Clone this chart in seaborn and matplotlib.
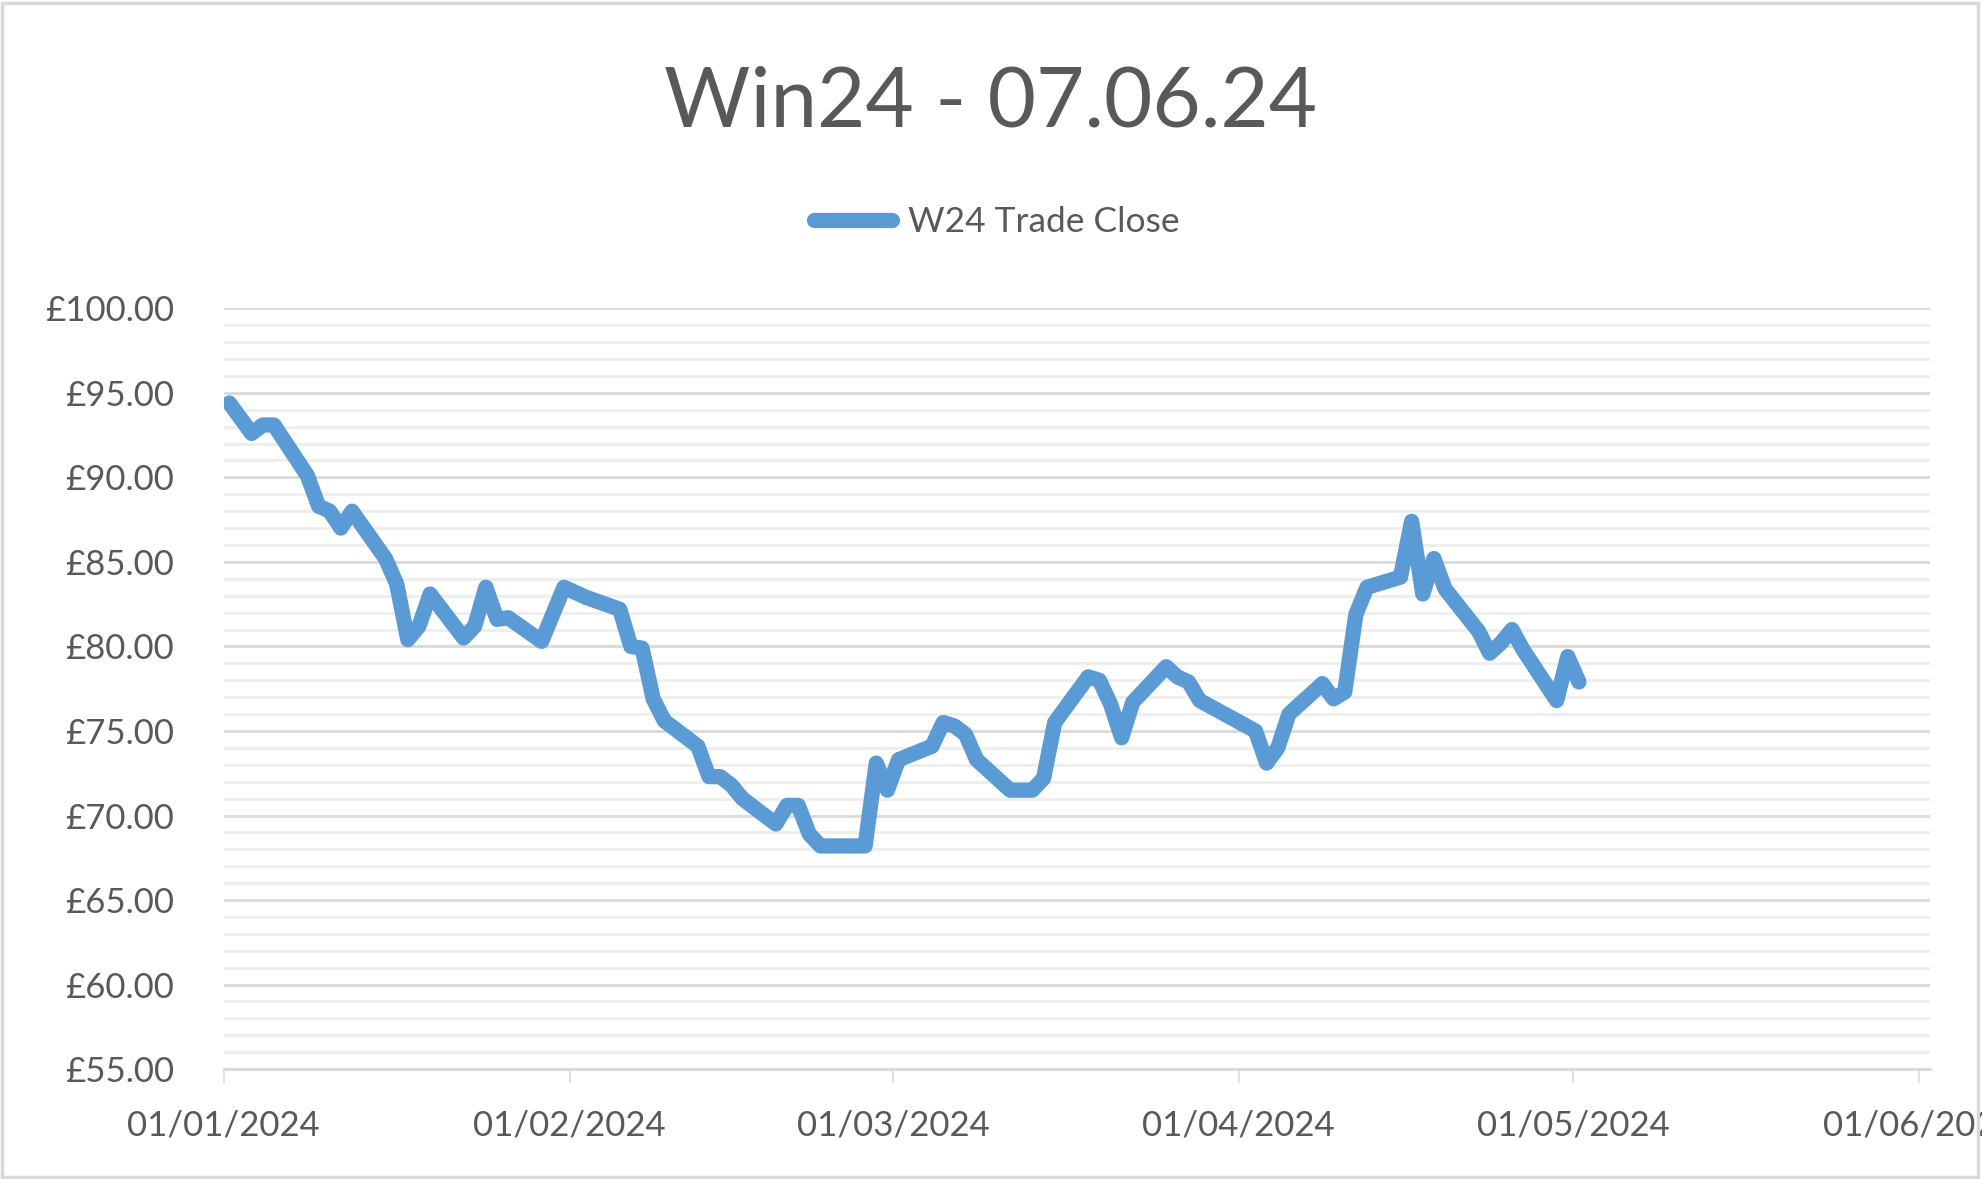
import matplotlib
matplotlib.use("Agg")
import matplotlib.pyplot as plt
import matplotlib.ticker as mticker
import matplotlib.dates as mdates
from matplotlib.patches import Rectangle
import pandas as pd
import seaborn as sns

chart_title = "Win24 - 07.06.24"
series_name = "W24 Trade Close"

trade_dates = [
    "2024-01-01", "2024-01-02", "2024-01-03", "2024-01-04", "2024-01-05",
    "2024-01-08", "2024-01-09", "2024-01-10", "2024-01-11", "2024-01-12",
    "2024-01-15", "2024-01-16", "2024-01-17", "2024-01-18", "2024-01-19",
    "2024-01-22", "2024-01-23", "2024-01-24", "2024-01-25", "2024-01-26",
    "2024-01-29", "2024-01-30", "2024-01-31", "2024-02-01", "2024-02-02",
    "2024-02-05", "2024-02-06", "2024-02-07", "2024-02-08", "2024-02-09",
    "2024-02-12", "2024-02-13", "2024-02-14", "2024-02-15", "2024-02-16",
    "2024-02-19", "2024-02-20", "2024-02-21", "2024-02-22", "2024-02-23",
    "2024-02-26", "2024-02-27", "2024-02-28", "2024-02-29", "2024-03-01",
    "2024-03-04", "2024-03-05", "2024-03-06", "2024-03-07", "2024-03-08",
    "2024-03-11", "2024-03-12", "2024-03-13", "2024-03-14", "2024-03-15",
    "2024-03-18", "2024-03-19", "2024-03-20", "2024-03-21", "2024-03-22",
    "2024-03-25", "2024-03-26", "2024-03-27", "2024-03-28",
    "2024-04-02", "2024-04-03", "2024-04-04", "2024-04-05",
    "2024-04-08", "2024-04-09", "2024-04-10", "2024-04-11", "2024-04-12",
    "2024-04-15", "2024-04-16", "2024-04-17", "2024-04-18", "2024-04-19",
    "2024-04-22", "2024-04-23", "2024-04-24", "2024-04-25", "2024-04-26",
    "2024-04-29", "2024-04-30", "2024-05-01",
]

trade_close = [
    94.4, 93.5, 92.6, 93.1, 93.1,
    90.1, 88.3, 88.0, 87.0, 88.0,
    85.2, 83.7, 80.4, 81.2, 83.1,
    80.5, 81.2, 83.5, 81.6, 81.7,
    80.3, 81.9, 83.5, 83.2, 82.9,
    82.2, 80.0, 79.9, 76.9, 75.6,
    74.1, 72.3, 72.3, 71.8, 71.0,
    69.5, 70.6, 70.6, 68.9, 68.2,
    68.2, 68.2, 73.1, 71.5, 73.3,
    74.1, 75.5, 75.3, 74.8, 73.3,
    71.5, 71.5, 71.5, 72.2, 75.5,
    78.2, 78.0, 76.6, 74.6, 76.7,
    78.8, 78.2, 77.9, 76.8,
    75.0, 73.1, 74.0, 76.0,
    77.8, 76.9, 77.3, 81.9, 83.5,
    84.1, 87.4, 83.1, 85.2, 83.4,
    80.9, 79.6, 80.2, 81.0, 79.8,
    76.8, 79.4, 77.9,
]

x_ticks = ["2024-01-01", "2024-02-01", "2024-03-01", "2024-04-01", "2024-05-01", "2024-06-01"]
y_ticks = [55, 60, 65, 70, 75, 80, 85, 90, 95, 100]

# excel date axis puts each point in the middle of its day slot
df = pd.DataFrame({
    "date": pd.to_datetime(trade_dates) + pd.Timedelta(hours=12),
    "close": trade_close,
})

sns.set_theme(style="white")
plt.rcParams["font.family"] = ["Lato", "DejaVu Sans"]

TEXT = "#595959"
GRID = "#d9d9d9"
MINOR = "#eeeeee"
BLUE = "#5b9bd5"

fig = plt.figure(figsize=(19.82, 11.79), dpi=100)
ax = fig.add_axes([0.1129, 0.0932, 0.861, 0.6453])

sns.lineplot(data=df, x="date", y="close", ax=ax, color=BLUE, linewidth=11,
             label=series_name, solid_capstyle="round", solid_joinstyle="round")

ax.set_xlim(pd.Timestamp("2024-01-01"), pd.Timestamp("2024-06-02"))
ax.set_ylim(y_ticks[0], y_ticks[-1])

ax.set_xticks(pd.to_datetime(x_ticks))
ax.xaxis.set_major_formatter(mdates.DateFormatter("%d/%m/%Y"))
ax.set_yticks(y_ticks)
ax.yaxis.set_major_formatter(mticker.FuncFormatter(lambda v, p: f"£{v:.2f}"))
ax.yaxis.set_minor_locator(mticker.MultipleLocator(1))

ax.set_axisbelow(True)
ax.grid(which="minor", axis="y", color=MINOR, linewidth=2)
ax.grid(which="major", axis="y", color=GRID, linewidth=2)
ax.grid(which="major", axis="x", visible=False)

for side in ["left", "right", "top"]:
    ax.spines[side].set_visible(False)
ax.spines["bottom"].set_color(GRID)
ax.spines["bottom"].set_linewidth(2)

ax.tick_params(axis="x", which="major", direction="out", length=10, width=1.2,
               color=GRID, labelcolor=TEXT, labelsize=25, pad=19, bottom=True)
ax.tick_params(axis="y", which="both", length=0, labelcolor=TEXT, labelsize=25, pad=36)

ax.set_xlabel("")
ax.set_ylabel("")

ax.legend(loc="center", bbox_to_anchor=(0.503, 0.8115), bbox_transform=fig.transFigure,
          frameon=False, fontsize=25.5, handlelength=2.2, handletextpad=0.45,
          labelcolor=TEXT)

fig.text(0.5, 0.8928, chart_title, ha="center", va="baseline", fontsize=60,
         color=TEXT)

fig.patches.append(Rectangle((0.001, 0.0015), 0.997, 0.996, transform=fig.transFigure,
                             fill=False, edgecolor=GRID, linewidth=2.5))

fig.savefig("out.png", dpi=100)
